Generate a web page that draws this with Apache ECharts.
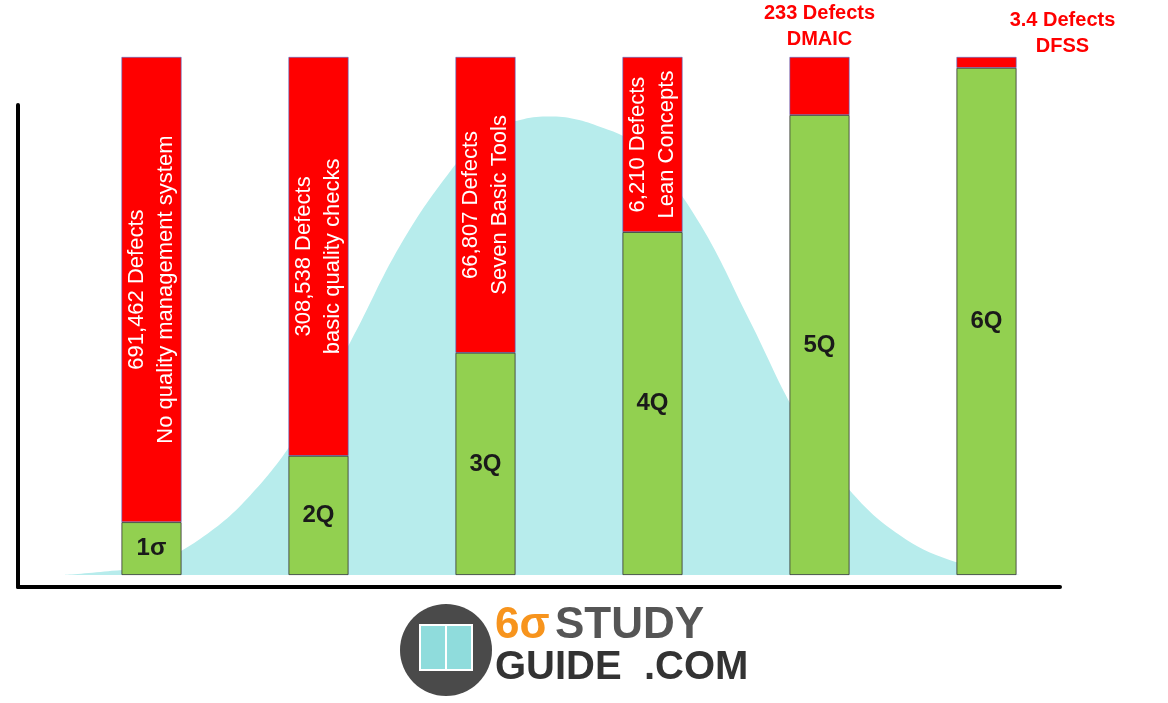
<!DOCTYPE html>
<html><head><meta charset="utf-8">
<script src="https://cdn.jsdelivr.net/npm/echarts@6/dist/echarts.min.js"></script>
<style>html,body{margin:0;padding:0;background:#fff}#c{width:1168px;height:703px}</style>
</head><body><div id="c"></div>
<script>
const categories = ['1σ','2Q','3Q','4Q','5Q','6Q'];
const greenValues = [10.2, 23, 42.9, 66.2, 88.8, 97.9];
const redValues = [89.8, 77, 57.1, 33.8, 11.2, 2.1];
const defectLabels = [
  '691,462 Defects\nNo quality management system',
  '308,538 Defects\nbasic quality checks',
  '66,807 Defects\nSeven Basic Tools',
  '6,210 Defects\nLean Concepts',
  '233 Defects\nDMAIC',
  '3.4 Defects\nDFSS'
];
const curveX = [4.5,9,12.7,17.5,22.3,27.1,31.9,36.7,41.5,44,46.3,48.5,51,53.5,55.9,58.3,60.7,65.5,70.2,75,79.8,84.6,89.4,96.2];
const curveY = [0,0.8,2,7,15.4,28,45,63.7,78,83,86.5,88,88.5,88,86.5,84.5,81,67.6,49.2,30,16.4,7.7,2.9,0];

const chart = echarts.init(document.getElementById('c'));
const font = 'Liberation Sans, Arial, sans-serif';
chart.setOption({
  animation:false,
  grid:[
    {left:68, right:98, top:57, bottom:128},
    {left:18, right:108, top:57, bottom:128},
    {left:18, right:108, top:105, bottom:116}
  ],
  xAxis:[
    {type:'category', gridIndex:0, data:categories, show:false},
    {type:'value', gridIndex:1, min:0, max:100, show:false},
    {type:'value', gridIndex:2, min:0, max:100, axisLine:{show:true,lineStyle:{color:'#000',width:4}}, axisTick:{show:false}, axisLabel:{show:false}, splitLine:{show:false}}
  ],
  yAxis:[
    {type:'value', gridIndex:0, min:0, max:100, show:false},
    {type:'value', gridIndex:1, min:0, max:100, show:false},
    {type:'value', gridIndex:2, min:0, max:100, axisLine:{show:true,lineStyle:{color:'#000',width:4}}, axisTick:{show:false}, axisLabel:{show:false}, splitLine:{show:false}}
  ],
  series:[
    {type:'line', xAxisIndex:1, yAxisIndex:1, smooth:0.4, symbol:'none', z:1,
     data:curveX.map((x,i)=>[x,curveY[i]]),
     lineStyle:{width:0}, areaStyle:{color:'#b7ecec', opacity:1}},
    {type:'bar', xAxisIndex:0, yAxisIndex:0, barWidth:60, stack:'s', z:3,
     data:greenValues,
     itemStyle:{color:'#92d050', borderColor:'#333', borderWidth:0.8},
     label:{show:true, position:'inside', formatter:'{b}', color:'#1a1a1a', fontSize:24, fontWeight:'bold', fontFamily:font}},
    {type:'bar', xAxisIndex:0, yAxisIndex:0, barWidth:60, stack:'s', z:2,
     data:redValues.map((v,i)=>({value:v, label: i<4 ? {
        show:true, formatter:defectLabels[i], position:'inside', rotate:90, align:'center', verticalAlign:'middle',
        color:'#fff', fontSize:22, lineHeight:29, fontFamily:font
      } : {
        show:true, formatter:defectLabels[i], position:'top', distance: i===5?0:5, offset: i===5?[76,2]:[0,0],
        color:'#ff0000', fontSize:20, fontWeight:'bold', lineHeight:26, fontFamily:font
      }})),
     itemStyle:{color:'#ff0000', borderColor:'#4a6fd0', borderWidth:0.6}}
  ],
  graphic:[
    {type:'circle', shape:{cx:446, cy:650, r:46}, style:{fill:'#4a4a4a'}},
    {type:'rect', shape:{x:420, y:625, width:52, height:45}, style:{fill:'#8fdcdc', stroke:'#fff', lineWidth:2}},
    {type:'line', shape:{x1:446,y1:625,x2:446,y2:670}, style:{stroke:'#fff', lineWidth:2}},
    {type:'text', left:495, top:604, style:{text:'6σ', fill:'#f7941d', font:'bold 44px '+font}},
    {type:'text', left:555, top:604, style:{text:'STUDY', fill:'#555', font:'bold 44px '+font}},
    {type:'text', left:495, top:648, style:{text:'GUIDE  .COM', fill:'#333', font:'bold 40px '+font}}
  ]
});
</script></body></html>
